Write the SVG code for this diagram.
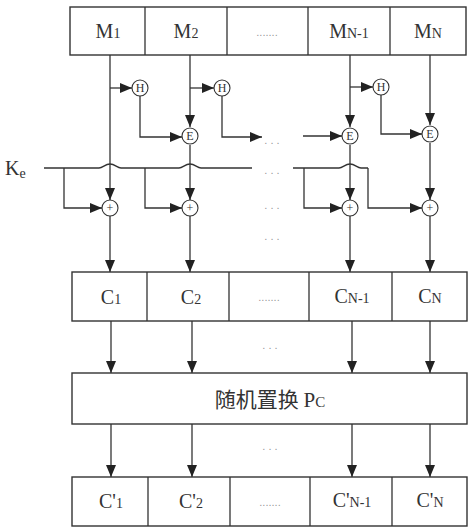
<svg xmlns="http://www.w3.org/2000/svg" width="474" height="532" viewBox="0 0 474 532">
<style>
.box{fill:#fff;stroke:#333;stroke-width:1.4}
.ln{fill:none;stroke:#333;stroke-width:1.3}
.arr{fill:none;stroke:#333;stroke-width:1.3;marker-end:url(#ah)}
.lbl{font-family:"Liberation Serif","DejaVu Serif",serif;font-size:20px;fill:#333;text-anchor:middle}
.sub{font-size:14px}
.cir{fill:#fff;stroke:#333;stroke-width:1.1}
.ct{font-family:"Liberation Serif",serif;font-size:12px;fill:#333;text-anchor:middle}
.dots{font-family:"Liberation Sans",sans-serif;font-size:11px;fill:#999;text-anchor:middle}
.cn{font-family:"Noto Sans CJK SC","Liberation Serif",sans-serif;font-size:21px;fill:#333;text-anchor:middle}
</style>
<defs>
<marker id="ah" viewBox="0 0 12 10" refX="12" refY="5" markerWidth="12" markerHeight="10" markerUnits="userSpaceOnUse" orient="auto">
<path d="M0,0 L12,5 L0,10 z" fill="#222"/>
</marker>
</defs>
<rect width="474" height="532" fill="#fff"/>

<g id="connectors">
<path class="arr" d="M110,55 V200"/>
<path class="arr" d="M110,88 H132"/>
<path class="arr" d="M140,96 V137 H182"/>
<path class="arr" d="M110,216 V272"/>
<path class="arr" d="M190,55 V127"/>
<path class="arr" d="M190,88 H214"/>
<path class="arr" d="M222,96 V137 H262"/>
<path class="arr" d="M190,145 V200"/>
<path class="arr" d="M190,216 V272"/>
<path class="arr" d="M350,55 V127"/>
<path class="arr" d="M350,87 H373"/>
<path class="arr" d="M303,136 H342"/>
<path class="arr" d="M381,95 V134 H422"/>
<path class="arr" d="M350,145 V200"/>
<path class="arr" d="M350,216 V272"/>
<path class="arr" d="M430,55 V125"/>
<path class="arr" d="M430,143 V200"/>
<path class="arr" d="M430,216 V272"/>
<path class="ln" d="M44,168 H99 C103,168 105,164 110,164 C115,164 117,168 121,168 H179 C183,168 185,164 190,164 C195,164 197,168 201,168 H252"/>
<path class="ln" d="M293,168 H339 C343,168 345,164 350,164 C355,164 357,168 361,168 H368"/>
<path class="arr" d="M64,168 V208 H102"/>
<path class="arr" d="M145,168 V208 H182"/>
<path class="arr" d="M304,168 V208 H342"/>
<path class="arr" d="M368,168 V208 H422"/>
<path class="arr" d="M111,321 V373"/>
<path class="arr" d="M192,321 V373"/>
<path class="arr" d="M352,321 V373"/>
<path class="arr" d="M430,321 V373"/>
<path class="arr" d="M111,424 V477"/>
<path class="arr" d="M192,424 V477"/>
<path class="arr" d="M352,424 V477"/>
<path class="arr" d="M430,424 V477"/>
</g>

<g id="M-row">
<rect class="box" x="70" y="7" width="396" height="48"/>
<path class="ln" d="M145,7 V55 M227,7 V55 M308,7 V55 M390,7 V55"/>
<text class="lbl" x="108" y="38">M<tspan class="sub">1</tspan></text>
<text class="lbl" x="186" y="38">M<tspan class="sub">2</tspan></text>
<text class="dots" x="267" y="36">.......</text>
<text class="lbl" x="349" y="38">M<tspan class="sub">N-1</tspan></text>
<text class="lbl" x="428" y="38">M<tspan class="sub">N</tspan></text>
</g>

<g id="H1"><circle class="cir" cx="140" cy="88" r="8"/><text class="ct" x="140" y="92">H</text></g>
<g id="H2"><circle class="cir" cx="222" cy="88" r="8"/><text class="ct" x="222" y="92">H</text></g>
<g id="H3"><circle class="cir" cx="381" cy="87" r="8"/><text class="ct" x="381" y="91">H</text></g>
<g id="E2"><circle class="cir" cx="190" cy="136" r="8"/><text class="ct" x="190" y="140">E</text></g>
<g id="E3"><circle class="cir" cx="350" cy="136" r="8"/><text class="ct" x="350" y="140">E</text></g>
<g id="EN"><circle class="cir" cx="430" cy="134" r="8"/><text class="ct" x="430" y="138">E</text></g>
<g id="X1"><circle class="cir" cx="110" cy="208" r="8"/><text class="ct" x="110" y="212">+</text></g>
<g id="X2"><circle class="cir" cx="190" cy="208" r="8"/><text class="ct" x="190" y="212">+</text></g>
<g id="X3"><circle class="cir" cx="350" cy="208" r="8"/><text class="ct" x="350" y="212">+</text></g>
<g id="XN"><circle class="cir" cx="430" cy="208" r="8"/><text class="ct" x="430" y="212">+</text></g>

<g id="Ke"><text class="lbl" x="5" y="175" style="text-anchor:start">K<tspan class="sub" dy="3">e</tspan></text></g>

<g id="ellipses">
<text class="dots" x="272" y="144">. . .</text>
<text class="dots" x="272" y="174">. . .</text>
<text class="dots" x="272" y="209">. . .</text>
<text class="dots" x="272" y="240">. . .</text>
<text class="dots" x="270" y="349">. . .</text>
<text class="dots" x="270" y="450">. . .</text>
</g>

<g id="C-row">
<rect class="box" x="72" y="272" width="395" height="49"/>
<path class="ln" d="M147,272 V321 M229,272 V321 M309,272 V321 M392,272 V321"/>
<text class="lbl" x="111" y="304">C<tspan class="sub">1</tspan></text>
<text class="lbl" x="191" y="304">C<tspan class="sub">2</tspan></text>
<text class="dots" x="269" y="301">.......</text>
<text class="lbl" x="352" y="303">C<tspan class="sub">N-1</tspan></text>
<text class="lbl" x="430" y="303">C<tspan class="sub">N</tspan></text>
</g>

<g id="perm">
<rect class="box" x="72" y="373" width="395" height="51"/>
<text class="cn" x="270" y="407">随机置换 <tspan style="font-family:'Liberation Serif',serif">P<tspan style="font-size:15px">C</tspan></tspan></text>
</g>

<g id="Cp-row">
<rect class="box" x="72" y="477" width="395" height="49"/>
<path class="ln" d="M148,477 V526 M230,477 V526 M310,477 V526 M392,477 V526"/>
<text class="lbl" x="111" y="508">C'<tspan class="sub">1</tspan></text>
<text class="lbl" x="191" y="508">C'<tspan class="sub">2</tspan></text>
<text class="dots" x="270" y="506">.......</text>
<text class="lbl" x="352" y="507">C'<tspan class="sub">N-1</tspan></text>
<text class="lbl" x="430" y="507">C'<tspan class="sub">N</tspan></text>
</g>
</svg>
